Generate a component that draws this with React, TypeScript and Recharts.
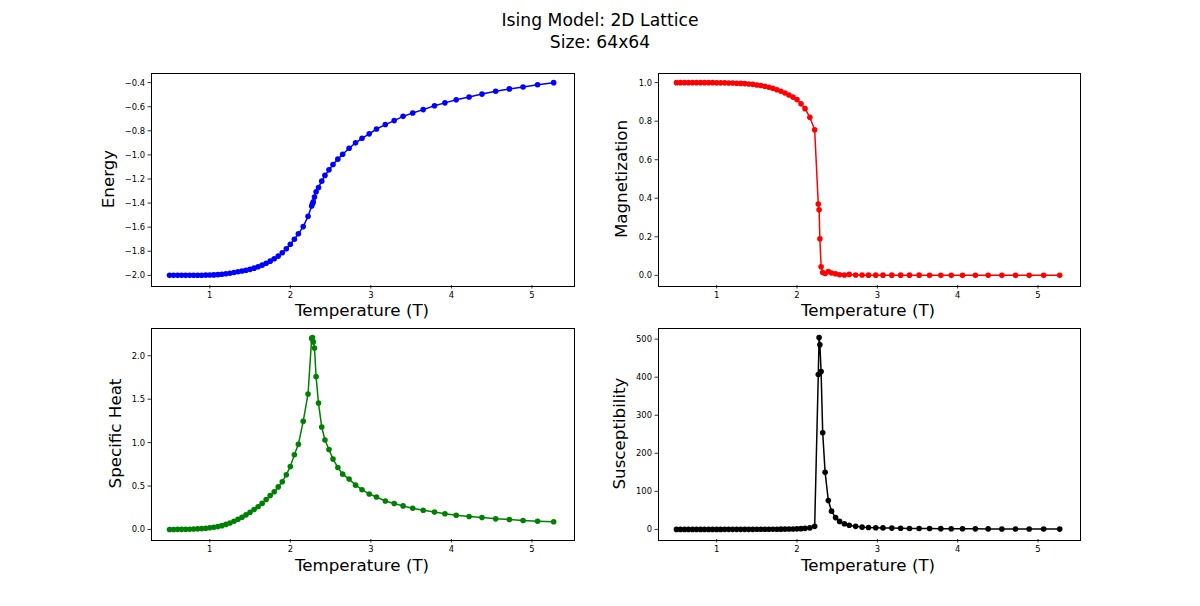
import React from 'react';
import { LineChart, Line, XAxis, YAxis } from 'recharts';

const temperature = [
  0.5, 0.55, 0.6, 0.65, 0.7, 0.75, 0.8, 0.85, 0.9, 0.95,
  1.0, 1.05, 1.1, 1.15, 1.2, 1.25, 1.3, 1.35, 1.4, 1.45,
  1.5, 1.55, 1.6, 1.65, 1.7, 1.75, 1.8, 1.85, 1.9, 1.95,
  2.0, 2.05, 2.1, 2.16, 2.22, 2.265, 2.275, 2.285, 2.3, 2.32,
  2.35, 2.39, 2.43, 2.48, 2.53, 2.59, 2.65, 2.73, 2.81, 2.89,
  2.98, 3.07, 3.18, 3.29, 3.4, 3.52, 3.65, 3.79, 3.92, 4.06,
  4.22, 4.38, 4.55, 4.72, 4.89, 5.07, 5.27,
];

const energy = [
  -2.0, -2.0, -2.0, -2.0, -2.0, -2.0, -1.999, -1.999, -1.999, -1.998,
  -1.997, -1.996, -1.994, -1.991, -1.987, -1.982, -1.976, -1.97, -1.964, -1.958,
  -1.95, -1.94, -1.928, -1.915, -1.9, -1.882, -1.862, -1.84, -1.812, -1.78,
  -1.742, -1.7, -1.655, -1.595, -1.51, -1.425, -1.405, -1.39, -1.35, -1.306,
  -1.27, -1.218, -1.17, -1.124, -1.08, -1.035, -0.995, -0.945, -0.9, -0.862,
  -0.825, -0.785, -0.748, -0.715, -0.68, -0.652, -0.624, -0.592, -0.568, -0.542,
  -0.519, -0.495, -0.472, -0.452, -0.436, -0.417, -0.4,
];

const magnetization = [
  1.0, 1.0, 1.0, 1.0, 1.0, 1.0, 1.0, 1.0, 1.0, 1.0,
  0.999, 0.999, 0.999, 0.998, 0.998, 0.997, 0.996, 0.995, 0.993, 0.991,
  0.988, 0.985, 0.981, 0.976, 0.97, 0.963, 0.955, 0.946, 0.936, 0.925,
  0.912, 0.89, 0.865, 0.82, 0.755, 0.37, 0.34, 0.19, 0.045, 0.015,
  0.01, 0.02, 0.012, 0.008, 0.003, 0.002, 0.005, 0.002, 0.002, 0.001,
  0.001, 0.001, 0.001, 0.001, 0.001, 0.001, 0.0, 0.0, 0.0, 0.0,
  0.0, 0.0, 0.0, 0.0, 0.0, 0.0, 0.0,
];

const specificHeat = [
  0.0, 0.0, 0.001, 0.001, 0.002, 0.003, 0.005, 0.007, 0.01, 0.014,
  0.019, 0.025, 0.033, 0.044, 0.058, 0.075, 0.095, 0.118, 0.141, 0.168,
  0.198, 0.23, 0.262, 0.3, 0.345, 0.39, 0.435, 0.49, 0.55, 0.63,
  0.725, 0.86, 0.98, 1.245, 1.56, 2.2, 2.21, 2.16, 2.09, 1.76,
  1.455, 1.18, 1.03, 0.92, 0.81, 0.714, 0.637, 0.58, 0.51, 0.458,
  0.408, 0.374, 0.328, 0.298, 0.271, 0.244, 0.221, 0.2, 0.18, 0.164,
  0.149, 0.137, 0.122, 0.115, 0.103, 0.095, 0.088,
];

const susceptibility = [
  0.0, 0.0, 0.0, 0.0, 0.0, 0.0, 0.0, 0.0, 0.0, 0.0,
  0.0, 0.0, 0.1, 0.1, 0.1, 0.1, 0.1, 0.2, 0.2, 0.2,
  0.3, 0.3, 0.4, 0.4, 0.5, 0.6, 0.7, 0.8, 1.0, 1.2,
  1.5, 2.0, 2.8, 4.0, 8.0, 407, 504, 485, 415, 254,
  150, 76, 48, 31, 21, 15, 11, 8.0, 6.0, 5.0,
  4.5, 4.0, 3.5, 3.0, 2.5, 2.5, 2.2, 2.0, 1.8, 1.6,
  1.5, 1.3, 1.2, 1.1, 1.0, 0.9, 0.8,
];

const xTicks = [1, 2, 3, 4, 5];
const energyTicks = [-2.0, -1.8, -1.6, -1.4, -1.2, -1.0, -0.8, -0.6, -0.4];
const magnetizationTicks = [0.0, 0.2, 0.4, 0.6, 0.8, 1.0];
const specificHeatTicks = [0.0, 0.5, 1.0, 1.5, 2.0];
const susceptibilityTicks = [0, 100, 200, 300, 400, 500];

const rows = temperature.map((t, i) => ({
  t,
  energy: energy[i],
  magnetization: magnetization[i],
  specificHeat: specificHeat[i],
  susceptibility: susceptibility[i],
}));

const FONT = '"DejaVu Sans", sans-serif';
const X_DOMAIN: [number, number] = [0.27, 5.51];

type PanelProps = {
  dataKey: string;
  color: string;
  yDomain: [number, number];
  yTicks: number[];
  decimals: number;
  left: number;
  top: number;
  width: number;
  height: number;
};

const fmt = (d: number) => (v: number) => {
  const s = Number(v).toFixed(d);
  return s.startsWith('-') ? '\u2212' + s.slice(1) : s;
};

const PAD_L = 50;
const PAD_T = 10;
const PAD_R = 10;
const PAD_B = 20;

function Panel({ dataKey, color, yDomain, yTicks, decimals, left, top, width, height }: PanelProps) {
  const tickStyle = { fontSize: 8.4, fontFamily: FONT, fill: '#000' };
  return (
    <>
      <div style={{ position: 'absolute', left: left - PAD_L, top: top - PAD_T }}>
        <LineChart
          width={width + PAD_L + PAD_R}
          height={height + PAD_T + PAD_B}
          data={rows}
          margin={{ top: PAD_T, right: PAD_R, bottom: 0, left: 0 }}
        >
          <XAxis
            dataKey="t"
            type="number"
            domain={X_DOMAIN}
            ticks={xTicks}
            allowDataOverflow
            height={PAD_B}
            axisLine={false}
            tickLine={{ stroke: '#000', strokeWidth: 0.8 }}
            tickSize={3.5}
            tickMargin={4}
            tick={tickStyle}
            tickFormatter={fmt(0)}
            interval={0}
          />
          <YAxis
            type="number"
            domain={yDomain}
            ticks={yTicks}
            allowDataOverflow
            width={PAD_L}
            axisLine={false}
            tickLine={{ stroke: '#000', strokeWidth: 0.8 }}
            tickSize={3.5}
            tickMargin={2.5}
            tick={tickStyle}
            tickFormatter={fmt(decimals)}
            interval={0}
          />
          <Line
            type="linear"
            dataKey={dataKey}
            stroke={color}
            strokeWidth={1.5}
            dot={{ r: 2.8, fill: color, stroke: color, strokeWidth: 0 }}
            activeDot={false}
            isAnimationActive={false}
          />
        </LineChart>
      </div>
      <div
        style={{
          position: 'absolute',
          left: left - 0.5,
          top: top - 0.5,
          width: width,
          height: height,
          border: '1px solid #000',
          pointerEvents: 'none',
        }}
      />
    </>
  );
}

export default function App() {
  const L1 = 151, L2 = 658, T1 = 73, T2 = 328, W = 422, H = 212, H2 = 211;
  return (
    <div style={{ position: 'absolute', left: 0, top: 0, width: 1200, height: 606, background: '#fff', overflow: 'hidden' }}>
      <Panel dataKey="energy" color="#0000ff" yDomain={[-2.08, -0.32]} yTicks={energyTicks} decimals={1} left={L1} top={T1} width={W} height={H} />
      <Panel dataKey="magnetization" color="#ff0000" yDomain={[-0.05, 1.05]} yTicks={magnetizationTicks} decimals={1} left={L2} top={T1} width={W - 1} height={H} />
      <Panel dataKey="specificHeat" color="#008000" yDomain={[-0.11, 2.32]} yTicks={specificHeatTicks} decimals={1} left={L1} top={T2} width={W} height={H2} />
      <Panel dataKey="susceptibility" color="#000000" yDomain={[-25.2, 529.2]} yTicks={susceptibilityTicks} decimals={0} left={L2} top={T2} width={W - 1} height={H2} />
      <svg width={1200} height={606} style={{ position: 'absolute', left: 0, top: 0, pointerEvents: 'none' }}>
        <g fontFamily={FONT} fill="#000">
          <text x={600} y={25.7} textAnchor="middle" fontSize={17.2}>Ising Model: 2D Lattice</text>
          <text x={600} y={47.7} textAnchor="middle" fontSize={17.2}>Size: 64x64</text>
          <text x={362} y={316} textAnchor="middle" fontSize={16.7}>Temperature (T)</text>
          <text x={868} y={316} textAnchor="middle" fontSize={16.7}>Temperature (T)</text>
          <text x={362} y={571} textAnchor="middle" fontSize={16.7}>Temperature (T)</text>
          <text x={868} y={571} textAnchor="middle" fontSize={16.7}>Temperature (T)</text>
          <text transform="translate(114,179) rotate(-90)" textAnchor="middle" fontSize={16.7}>Energy</text>
          <text transform="translate(627,179) rotate(-90)" textAnchor="middle" fontSize={16.7}>Magnetization</text>
          <text transform="translate(121,433.5) rotate(-90)" textAnchor="middle" fontSize={16.7}>Specific Heat</text>
          <text transform="translate(625,433.5) rotate(-90)" textAnchor="middle" fontSize={16.7}>Susceptibility</text>
        </g>
      </svg>
    </div>
  );
}
